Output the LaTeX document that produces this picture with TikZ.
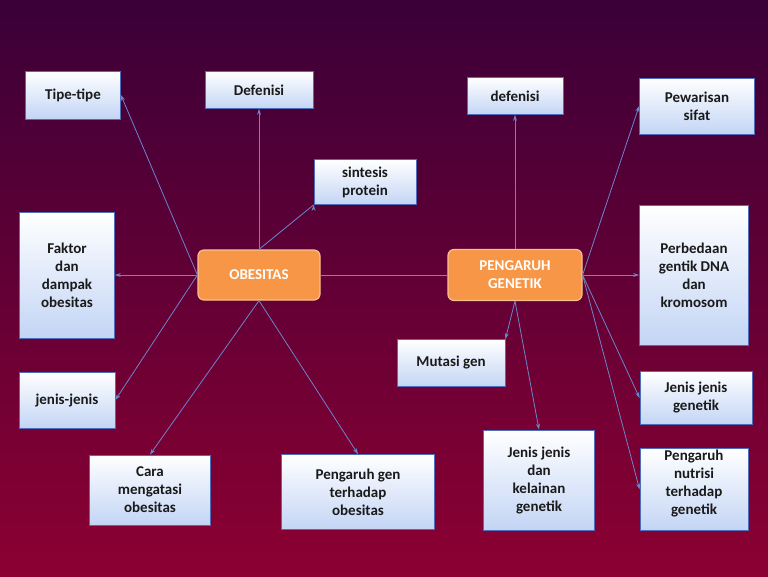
\documentclass[tikz,border=0pt]{standalone}
\usepackage{fontspec}
\setmainfont{Carlito}
\usetikzlibrary{arrows.meta}
\definecolor{bgtop}{HTML}{3A0038}
\definecolor{bgbot}{HTML}{8C0032}
\definecolor{boxedge}{HTML}{4F6DB8}
\definecolor{boxlo}{HTML}{C3D5F5}
\definecolor{orng}{HTML}{F79646}
\definecolor{txt}{HTML}{1A1A1A}
\definecolor{lnk}{HTML}{6A86CC}
\tikzset{
 bx/.style={draw=boxedge,line width=0.8pt,top color=white,bottom color=boxlo,
   text=txt,font=\fontsize{15}{18}\selectfont\bfseries,align=center,inner sep=2pt},
 hub/.style={draw=orng!60!white,line width=1.2pt,fill=orng,rounded corners=6pt,
   text=white,font=\fontsize{15}{18}\selectfont\bfseries,align=center},
 ln/.style={draw=lnk,line width=0.8pt,-{Stealth[length=6pt,width=4pt]}}
}
\begin{document}
\begin{tikzpicture}[x=1pt,y=-1pt]
\useasboundingbox (0,0) rectangle (768,576);
\shade[top color=bgtop,bottom color=bgbot] (0,0) rectangle (768,576);
\node[bx,minimum width=95,minimum height=48] (tipe) at (73,95) {Tipe-tipe};
\node[bx,minimum width=108,minimum height=37] (def1) at (259,90) {Defenisi};
\node[bx,minimum width=102,minimum height=45] (sint) at (365,182) {sintesis\\protein};
\node[bx,minimum width=95,minimum height=126] (fak) at (67,275) {Faktor\\dan\\dampak\\obesitas};
\node[bx,minimum width=96,minimum height=56] (jen) at (67,400) {jenis-jenis};
\node[bx,minimum width=121,minimum height=70] (cara) at (150,490) {Cara\\mengatasi\\obesitas};
\node[bx,minimum width=153,minimum height=75] (pgen) at (358,492) {Pengaruh gen\\terhadap\\obesitas};
\node[hub,minimum width=122,minimum height=50] (ob) at (259,275) {OBESITAS};
\node[hub,minimum width=134,minimum height=51] (pg) at (515,275) {PENGARUH\\GENETIK};
\node[bx,minimum width=96,minimum height=37] (def2) at (515,96) {defenisi};
\node[bx,minimum width=115,minimum height=56] (pew) at (697,106) {Pewarisan\\sifat};
\node[bx,minimum width=109,minimum height=140] (perb) at (694,275) {Perbedaan\\gentik DNA\\dan\\kromosom};
\node[bx,minimum width=108,minimum height=47] (mut) at (451,363) {Mutasi gen};
\node[bx,minimum width=112,minimum height=53] (jjg) at (696,398) {Jenis jenis\\genetik};
\node[bx,minimum width=111,minimum height=100] (jjk) at (539,480) {Jenis jenis\\dan\\kelainan\\genetik};
\node[bx,minimum width=108,minimum height=82,anchor=north] (nut) at (694,448) {};
\node[font=\fontsize{15}{18}\selectfont\bfseries,text=txt,align=center,anchor=north] (nutt) at (694,446) {Pengaruh\\nutrisi\\terhadap\\genetik};
\draw[ln] (ob.west) -- (tipe.east);
\draw[ln] (ob.north) -- (def1.south);
\draw[ln] (ob.north) -- (sint.south west) ++(0,0);
\draw[ln] (ob.west) -- (fak.east);
\draw[ln] (ob.west) -- (jen.east);
\draw[ln] (ob.south) -- (cara.north);
\draw[ln] (ob.south) -- (pgen.north);
\draw[draw=lnk,line width=0.8pt] (ob.east) -- (pg.west);
\draw[ln] (pg.north) -- (def2.south);
\draw[ln] (pg.east) -- (pew.west);
\draw[ln] (pg.east) -- (perb.west);
\draw[ln] (pg.east) -- (jjg.west);
\draw[ln] (pg.east) -- (nut.west);
\draw[ln] (pg.south) -- (mut.north east);
\draw[ln] (pg.south) -- (jjk.north);
\end{tikzpicture}
\end{document}
